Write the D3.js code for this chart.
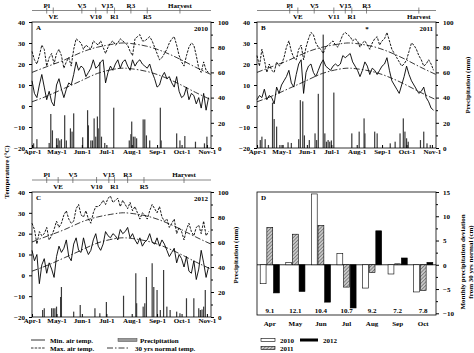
<!DOCTYPE html>
<html>
<head>
<meta charset="utf-8">
<script src="https://cdn.jsdelivr.net/npm/d3@7"></script>
<style>
body { margin: 0; background: #fff; }
svg { display: block; }
text { font-family: "Liberation Serif", "Times New Roman", serif; font-weight: bold; font-size: 7px; fill: #000; }
</style>
</head>
<body>
<svg id="chart" width="474" height="353"></svg>
<script>
// daily temps read every 3 days from Apr-1
var tempStep = 3;
var maxT2010 = [26,22,20,24,29,27,19,23,25,20,25,27,24,18,21,23,19,27,32,31,30,27,29,28,27,31,30,29,31,28,25,28,30,31,29,30,32,31,30,29,26,24,32,33,34,31,31,32,33,31,28,25,22,23,25,27,30,32,33,29,24,21,19,24,28,30,29,24,18,16,21,17,16];
var minT2010 = [12,6,4,10,15,9,3,7,2,0,10,13,8,4,8,11,10,15,21,17,19,18,14,16,18,22,18,19,21,22,11,16,19,17,20,22,18,21,22,19,17,22,19,21,22,20,19,18,20,16,13,9,10,14,16,13,14,11,9,14,7,4,5,9,3,6,5,1,4,-1,6,-2,4];
var maxT2011 = [24,19,27,22,16,20,17,16,21,19,20,23,28,31,26,23,22,27,29,22,28,32,35,34,30,28,27,25,28,29,30,31,29,28,31,34,35,34,33,31,32,31,28,30,31,29,27,30,32,33,29,31,32,35,31,27,25,23,21,19,20,22,26,30,29,27,24,22,19,20,22,20,17];
var minT2011 = [3,5,4,8,3,5,4,1,9,6,10,12,14,17,11,9,15,20,22,6,16,19,20,16,14,17,20,22,19,18,17,19,20,19,20,24,23,24,25,21,19,17,14,17,21,19,15,18,17,15,17,19,20,23,17,12,10,8,6,10,14,19,15,12,10,8,6,7,9,4,2,-1,-2];
var maxT2012 = [25,22,15,21,19,20,23,17,19,22,26,23,25,29,31,27,25,26,32,34,29,28,31,27,25,30,33,33,34,36,34,37,38,35,36,37,33,36,34,32,35,31,33,30,27,30,29,27,31,34,32,30,33,28,26,27,23,25,27,20,23,21,17,22,25,21,19,23,24,20,26,19,21];
var minT2012 = [12,7,10,-4,5,8,1,6,3,-1,9,14,11,13,17,9,7,15,18,12,11,18,13,10,12,17,20,14,12,15,21,19,18,20,19,17,22,20,21,23,18,20,17,15,18,14,16,17,20,16,15,18,14,17,15,12,9,11,13,6,10,8,4,9,2,1,7,-2,3,12,6,-1,4];

// 30 yrs normal temps
var normalDays = [0, 20, 40, 60, 80, 100, 110, 120, 140, 160, 180, 200, 219];
var normalMax = [16, 19, 22, 25.5, 28, 29.5, 30, 29.8, 28.5, 26, 22.5, 18.5, 15];
var normalMin = [2, 5, 8.5, 12, 15.5, 17.5, 18, 17.8, 16.5, 14, 10.5, 6.5, 3];

// precipitation events [day from Apr-1, mm]
var rain2010 = [[2,3.7],[6,7],[21,4],[23,27],[25,14],[30,7.7],[32,7.7],[34,6],[36,7],[40,26],[42,6],[47,15.6],[49,13],[51,27.5],[62,8.5],[68,30],[69,18],[72,6],[74,6],[76,23.5],[78,9],[80,25],[81,15.6],[83,68],[85,9],[89,4],[100,32],[119,6],[121,11],[122,21],[124,9],[126,9],[128,7.7],[136,22.7],[138,22.7],[140,10],[144,6],[157,32],[158,6],[177,11.6],[181,6],[187,9.5],[200,5],[211,3.7],[214,9]];
var rain2011 = [[4,6.3],[6,9],[10,7],[14,2.4],[19,36],[21,23],[24,17],[28,2.4],[32,2.4],[38,4.5],[42,4],[51,7],[53,38],[56,37],[58,10],[64,6.3],[71,11.6],[73,6.3],[75,43],[81,90],[83,11.6],[85,5],[87,6.3],[89,5],[91,6],[94,44],[116,11.6],[125,13],[131,23.5],[132,11.6],[144,13],[147,11.6],[163,3.7],[169,5],[175,11.6],[179,23.5],[181,13],[183,7.7],[185,5],[200,6.3],[204,13],[208,3.7],[212,2.4]];
var rain2012 = [[13,5.6],[15,7],[24,7],[26,7],[28,7],[30,8.3],[35,16],[36,24],[51,4.3],[59,9.6],[77,7],[83,3],[91,12],[112,17],[127,35],[128,11],[136,8.3],[138,11],[140,32],[147,43],[149,24],[153,21.6],[157,5.6],[161,37.6],[165,8.3],[169,5.6],[177,4.3],[181,3],[189,15],[198,15],[204,7],[206,5.6],[208,6],[210,8.3],[212,21.6]];

// growth stages
var stages2010 = ["Pl","VE","V5","V10","V15","R1","R3","R5","Harvest"];
var stageDays2010 = [18,26,61,78,92,101,121,141,181];
var stages2011 = ["Pl","VE","V5","V11","V15","R1","R3","Harvest"];
var stageDays2011 = [40,50,70,94,108,116,134,198];
var stages2012 = ["Pl","VE","V5","V10","V15","R1","R3","R5","Harvest"];
var stageDays2012 = [18,32,50,79,94,101,117,137,186];

var monthStarts = [0, 30, 61, 91, 122, 153, 183, 214];
var monthTicks = ["Apr-1","May-1","Jun-1","Jul-1","Aug-1","Sep-1","Oct-1","Nov-1"];

// panel D: monthly precipitation deviation (cm)
var months = ["Apr","May","Jun","Jul","Aug","Sep","Oct"];
var years = ["2010","2011","2012"];
var dev2010 = [-3.9, 0.5, 14.6, 2.3, -4.8, -1.9, -5.6];
var dev2011 = [7.7, 6.3, 8.1, -4.6, -1.6, 0.2, -5.3];
var dev2012 = [-5.8, -5.5, -7.7, -8.9, 7.0, 1.4, 0.5];
var normalPrecip = ["9.1","12.1","10.4","10.7","9.2","7.2","7.8"];

var svg = d3.select("#chart");
svg.append("rect").attr("width", 474).attr("height", 353).attr("fill", "#fff");

var defs = svg.append("defs");
var pat = defs.append("pattern").attr("id", "hatch").attr("patternUnits", "userSpaceOnUse")
    .attr("width", 2.5).attr("height", 2.5).attr("patternTransform", "rotate(45)");
pat.append("rect").attr("width", 2.5).attr("height", 2.5).attr("fill", "#c8c8c8");
pat.append("line").attr("x1", 0).attr("y1", 0).attr("x2", 0).attr("y2", 2.5)
    .attr("stroke", "#333").attr("stroke-width", 0.9);

var plotW = 179;
var x = d3.scaleLinear().domain([0, 219]).range([0, plotW]);

function drawPanel(p) {
    var g = svg.append("g").attr("transform", `translate(${p.left},${p.top})`);
    var h = p.h;
    var yT = d3.scaleLinear().domain([-20, 40]).range([h, 0]);
    var yP = d3.scaleLinear().domain([0, 100]).range([h, 0]);

    // precipitation bars
    g.append("g").selectAll("rect")
        .data(p.rain)
        .join("rect")
        .attr("x", d => x(d[0]) - 0.6)
        .attr("width", 1.2)
        .attr("y", d => yP(d[1]))
        .attr("height", d => h - yP(d[1]))
        .attr("fill", "#3a3a3a");

    // 30 yrs normal
    var normLine = d3.line()
        .x((d, i) => x(normalDays[i]))
        .y(d => yT(d))
        .curve(d3.curveNatural);
    [normalMax, normalMin].forEach(function(s) {
        g.append("path").datum(s).attr("d", normLine)
            .attr("fill", "none").attr("stroke", "#222")
            .attr("stroke-width", 0.9).attr("stroke-dasharray", "6,2,1.5,2");
    });

    var tLine = d3.line()
        .x((d, i) => x(i * tempStep))
        .y(d => yT(d));
    g.append("path").datum(p.maxT).attr("d", tLine)
        .attr("fill", "none").attr("stroke", "#000")
        .attr("stroke-width", 0.9).attr("stroke-dasharray", "2.5,1.2");
    g.append("path").datum(p.minT).attr("d", tLine)
        .attr("fill", "none").attr("stroke", "#000").attr("stroke-width", 0.9);

    // axes
    var ax = g.append("g").attr("transform", `translate(0,${h})`)
        .call(d3.axisBottom(x).tickValues(monthStarts)
            .tickFormat((d, i) => monthTicks[i])
            .tickSizeInner(-3).tickSizeOuter(0).tickPadding(1.5));
    ax.select(".domain").remove();

    var ay = g.append("g")
        .call(d3.axisLeft(yT).tickValues([-20, -10, 0, 10, 20, 30, 40])
            .tickSize(3).tickPadding(4));
    ay.select(".domain").remove();

    var ar = g.append("g").attr("transform", `translate(${plotW},0)`)
        .call(d3.axisRight(yP).tickValues([0, 20, 40, 60, 80, 100])
            .tickSize(3).tickPadding(4));
    ar.select(".domain").remove();
    var am = g.append("g").attr("transform", `translate(${plotW},0)`)
        .call(d3.axisRight(yP).tickValues([10, 30, 50, 70, 90])
            .tickSize(2).tickFormat(""));
    am.select(".domain").remove();

    g.append("rect").attr("width", plotW).attr("height", h)
        .attr("fill", "none").attr("stroke", "#000").attr("stroke-width", 0.8);

    g.append("text").attr("x", 4).attr("y", 8).text(p.letter);
    g.append("text").attr("x", plotW - 3).attr("y", 9)
        .attr("text-anchor", "end").text(p.year);

    // growth stages bar
    var sy = p.stageY - p.top;
    g.append("line").attr("x1", 0).attr("x2", plotW)
        .attr("y1", sy).attr("y2", sy)
        .attr("stroke", "#555").attr("stroke-width", 0.7);
    var st = g.append("g").selectAll("g")
        .data(p.stages)
        .join("g")
        .attr("transform", (d, i) => `translate(${x(p.stageDays[i])},${sy})`);
    st.append("line").attr("y1", -3).attr("y2", 3)
        .attr("stroke", "#555").attr("stroke-width", 0.7);
    st.append("text").attr("text-anchor", "middle")
        .attr("y", (d, i) => i % 2 === 0 ? -3 : 8.5)
        .text(d => d);
    return g;
}

drawPanel({left: 32, top: 22, h: 126, stageY: 10.5, letter: "A", year: "2010",
    maxT: maxT2010, minT: minT2010, rain: rain2010,
    stages: stages2010, stageDays: stageDays2010});
var gB = drawPanel({left: 257, top: 22, h: 126, stageY: 10.5, letter: "B", year: "2011",
    maxT: maxT2011, minT: minT2011, rain: rain2011,
    stages: stages2011, stageDays: stageDays2011});
gB.append("text").attr("x", 110).attr("y", 9).attr("text-anchor", "middle").text("*");
drawPanel({left: 32, top: 192, h: 125, stageY: 180, letter: "C", year: "2012",
    maxT: maxT2012, minT: minT2012, rain: rain2012,
    stages: stages2012, stageDays: stageDays2012});

// axis titles
svg.append("text").attr("transform", "translate(9,172) rotate(-90)")
    .attr("text-anchor", "middle").text("Temperature (°C)");
svg.append("text").attr("transform", "translate(238,255) rotate(-90)")
    .attr("text-anchor", "middle").text("Precipitation (mm)");
svg.append("text").attr("transform", "translate(470,85) rotate(-90)")
    .attr("text-anchor", "middle").text("Precipitation (mm)");

// panel D
var gD = svg.append("g").attr("transform", "translate(257,192)");
var dH = 123;
var x0 = d3.scaleBand().domain(months).range([0, plotW]).paddingInner(0.25).paddingOuter(0.125);
var x1 = d3.scaleBand().domain(years).range([0, x0.bandwidth()]).paddingInner(0.12);
var yD = d3.scaleLinear().domain([-10, 15]).range([121.3, 0]);
var devs = [dev2010, dev2011, dev2012];
var fills = ["#fff", "url(#hatch)", "#000"];

gD.append("line").attr("x1", 0).attr("x2", plotW)
    .attr("y1", yD(0)).attr("y2", yD(0)).attr("stroke", "#000").attr("stroke-width", 0.8);

years.forEach(function(yr, k) {
    gD.append("g").selectAll("rect")
        .data(devs[k])
        .join("rect")
        .attr("x", (d, i) => x0(months[i]) + x1(yr))
        .attr("width", x1.bandwidth())
        .attr("y", d => yD(Math.max(0, d)))
        .attr("height", d => Math.abs(yD(d) - yD(0)))
        .attr("fill", fills[k])
        .attr("stroke", "#000").attr("stroke-width", 0.6);
});

gD.append("g").selectAll("text")
    .data(normalPrecip)
    .join("text")
    .attr("x", (d, i) => x0(months[i]) + x0.bandwidth() / 2)
    .attr("y", dH - 2)
    .attr("text-anchor", "middle")
    .text(d => d);

var dax = gD.append("g").attr("transform", `translate(0,${dH})`)
    .call(d3.axisBottom(x0).tickSize(0).tickPadding(6));
dax.select(".domain").remove();

var dar = gD.append("g").attr("transform", `translate(${plotW},0)`)
    .call(d3.axisRight(yD).tickValues([-10, -5, 0, 5, 10, 15]).tickSize(3).tickPadding(4));
dar.select(".domain").remove();
var dam = gD.append("g").attr("transform", `translate(${plotW},0)`)
    .call(d3.axisRight(yD).tickValues([-7.5, -2.5, 2.5, 7.5, 12.5]).tickSize(2).tickFormat(""));
dam.select(".domain").remove();

gD.append("rect").attr("width", plotW).attr("height", dH)
    .attr("fill", "none").attr("stroke", "#000").attr("stroke-width", 0.8);
gD.append("text").attr("x", 4).attr("y", 8).text("D");

svg.append("text").attr("transform", "translate(465,262) rotate(-90)")
    .attr("text-anchor", "middle").text("Monthly precipitation deviation");
svg.append("text").attr("transform", "translate(473,262) rotate(-90)")
    .attr("text-anchor", "middle").text("from 30 yrs normal (cm)");

// legend, temperature panels
var lg = svg.append("g");
lg.append("line").attr("x1", 31).attr("x2", 45).attr("y1", 340).attr("y2", 340)
    .attr("stroke", "#000").attr("stroke-width", 0.8);
lg.append("text").attr("x", 50).attr("y", 342.5).text("Min. air temp.");
lg.append("line").attr("x1", 31).attr("x2", 45).attr("y1", 348).attr("y2", 348)
    .attr("stroke", "#000").attr("stroke-width", 0.8).attr("stroke-dasharray", "2.5,1.2");
lg.append("text").attr("x", 50).attr("y", 350.5).text("Max. air temp.");
lg.append("rect").attr("x", 118).attr("y", 338.5).attr("width", 19).attr("height", 3)
    .attr("fill", "#999").attr("stroke", "#444").attr("stroke-width", 0.5);
lg.append("text").attr("x", 140).attr("y", 342.5).text("Precipitation");
lg.append("line").attr("x1", 107).attr("x2", 129).attr("y1", 348).attr("y2", 348)
    .attr("stroke", "#222").attr("stroke-width", 0.9).attr("stroke-dasharray", "6,2,1.5,2");
lg.append("text").attr("x", 135).attr("y", 350.5).text("30 yrs normal temp.");

// legend, panel D
var lgD = svg.append("g");
lgD.append("rect").attr("x", 261).attr("y", 338.5).attr("width", 14).attr("height", 3)
    .attr("fill", "#fff").attr("stroke", "#000").attr("stroke-width", 0.6);
lgD.append("text").attr("x", 280).attr("y", 342.5).text("2010");
lgD.append("rect").attr("x", 261).attr("y", 346.5).attr("width", 14).attr("height", 3)
    .attr("fill", "url(#hatch)").attr("stroke", "#000").attr("stroke-width", 0.6);
lgD.append("text").attr("x", 280).attr("y", 350.5).text("2011");
lgD.append("rect").attr("x", 300).attr("y", 338.5).attr("width", 18).attr("height", 3)
    .attr("fill", "#000");
lgD.append("text").attr("x", 323).attr("y", 342.5).text("2012");
</script>
</body>
</html>
